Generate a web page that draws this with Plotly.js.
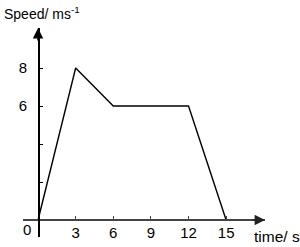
<!DOCTYPE html>
<html><head><meta charset="utf-8">
<script src="https://cdn.plot.ly/plotly-3.0.1.min.js"></script>
<style>html,body{margin:0;padding:0;background:#fff}#c{width:300px;height:247px}</style>
</head><body><div id="c"></div>
<script>
const timeS = [0, 3, 6, 12, 15];
const speed = [0, 8, 6, 6, 0];
const xTicks = [3, 6, 9, 12, 15];
const xTickText = ['3', '6', '9', '12', '15'];
const yTicks = [2, 4, 6, 8];
const yTickText = ['', '', '6', '8'];

const xr = [-1.2, 18.1], yr = [-0.895, 10.105];
const font = {family: 'Liberation Sans, Arial, sans-serif', size: 15, color: '#000'};
const L = 23, T = 28, W = 242, H = 209;
const px = v => (v - L) / W, py = v => (T + H - v) / H;

Plotly.newPlot('c', [{
  x: timeS, y: speed, mode: 'lines', type: 'scatter',
  line: {color: '#000', width: 1.4}, cliponaxis: false, hoverinfo: 'skip'
}], {
  width: 300, height: 247,
  margin: {l: L, r: 300 - L - W, t: T, b: 247 - T - H},
  paper_bgcolor: '#fff', plot_bgcolor: '#fff',
  showlegend: false, font: font,
  xaxis: {range: xr, anchor: 'free', position: (0 - yr[0]) / (yr[1] - yr[0]),
    showgrid: false, zeroline: false, showline: true, linecolor: '#444', linewidth: 2,
    ticks: 'inside', ticklen: 3, tickwidth: 1, tickcolor: '#444',
    tickvals: xTicks, ticktext: xTickText, tickfont: font, ticklabelstandoff: -1},
  yaxis: {range: yr, anchor: 'free', position: (0 - xr[0]) / (xr[1] - xr[0]),
    showgrid: false, zeroline: false, showline: true, linecolor: '#000', linewidth: 1.6,
    ticks: 'inside', ticklen: 3, tickwidth: 1, tickcolor: '#000',
    tickvals: yTicks, ticktext: yTickText, tickfont: font, ticklabelstandoff: 8},
  annotations: [
    {x: xr[1], y: 0, xref: 'x', yref: 'y', ax: -14, ay: 0, showarrow: true,
     arrowhead: 2, arrowsize: 1.3, arrowwidth: 1.6, arrowcolor: '#222', text: ''},
    {x: 0, y: yr[1], xref: 'x', yref: 'y', ax: 0, ay: 14, showarrow: true,
     arrowhead: 2, arrowsize: 1.3, arrowwidth: 1.6, arrowcolor: '#000', text: ''},
    {x: 0, y: 0, xref: 'x', yref: 'y', text: '0', showarrow: false,
     xanchor: 'center', yanchor: 'middle', xshift: -11, yshift: -9, font: font},
    {x: px(2), y: py(13), xref: 'paper', yref: 'paper', text: 'Speed/ ms<sup>-1</sup>', showarrow: false,
     xanchor: 'left', yanchor: 'middle', font: {family: font.family, size: 14, color: '#000'}},
    {x: px(252), y: py(236), xref: 'paper', yref: 'paper', text: 'time/ s', showarrow: false,
     xanchor: 'left', yanchor: 'middle', font: {family: font.family, size: 15.5, color: '#000'}}
  ]
}, {staticPlot: true, displayModeBar: false});
</script></body></html>
